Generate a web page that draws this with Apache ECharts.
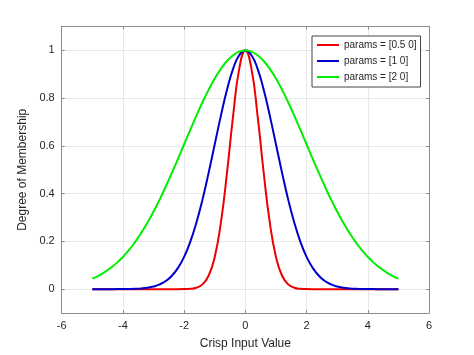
<!DOCTYPE html>
<html>
<head>
<meta charset="utf-8">
<script src="https://cdn.jsdelivr.net/npm/echarts@6/dist/echarts.min.js"></script>
<style>html,body{margin:0;padding:0;background:#fff}#c{width:474px;height:355px}</style>
</head>
<body>
<div id="c"></div>
<script>
const xValues = [-5,-4.8,-4.6,-4.4,-4.2,-4,-3.8,-3.6,-3.4,-3.2,-3,-2.8,-2.6,-2.4,-2.2,-2,-1.8,-1.6,-1.4,-1.2,-1,-0.8,-0.6,-0.4,-0.2,0,0.2,0.4,0.6,0.8,1,1.2,1.4,1.6,1.8,2,2.2,2.4,2.6,2.8,3,3.2,3.4,3.6,3.8,4,4.2,4.4,4.6,4.8,5];
const redValues = [0,0,0,0,0,0,0,0,0,0,0,0,0,0,0,0.0003,0.0015,0.006,0.0198,0.056,0.135,0.278,0.487,0.726,0.923,1,0.923,0.726,0.487,0.278,0.135,0.056,0.0198,0.006,0.0015,0.0003,0,0,0,0,0,0,0,0,0,0,0,0,0,0,0];
const blueValues = [0,0,0,0,0.0001,0.0003,0.0007,0.0015,0.0031,0.006,0.0111,0.0198,0.034,0.056,0.089,0.135,0.198,0.278,0.375,0.487,0.607,0.726,0.835,0.923,0.98,1,0.98,0.923,0.835,0.726,0.607,0.487,0.375,0.278,0.198,0.135,0.089,0.056,0.034,0.0198,0.0111,0.006,0.0031,0.0015,0.0007,0.0003,0.0001,0,0,0,0];
const greenValues = [0.044,0.056,0.071,0.089,0.110,0.135,0.164,0.198,0.236,0.278,0.325,0.375,0.430,0.487,0.546,0.607,0.667,0.726,0.783,0.835,0.8825,0.923,0.956,0.98,0.995,1,0.995,0.98,0.956,0.923,0.8825,0.835,0.783,0.726,0.667,0.607,0.546,0.487,0.430,0.375,0.325,0.278,0.236,0.198,0.164,0.135,0.110,0.089,0.071,0.056,0.044];
const seriesNames = ['params = [0.5 0]','params = [1 0]','params = [2 0]'];
const yTicks = [0,0.2,0.4,0.6,0.8,1];
const xLabel = 'Crisp Input Value';
const yLabel = 'Degree of Membership';

const pairs = ys => xValues.map((x,i)=>[x, ys[i]]);
const font = 'Liberation Sans, Helvetica, Arial, sans-serif';
const boxColor = '#8c8c8c';
const chart = echarts.init(document.getElementById('c'), null, {renderer:'canvas'});
const mk = (name, ys, color) => ({
  name, type:'line', data:pairs(ys), smooth:true, showSymbol:false, symbol:'none',
  lineStyle:{color, width:2}, itemStyle:{color}, animation:false, z:3
});
chart.setOption({
  animation:false,
  backgroundColor:'#fff',
  grid:{left:61.7, right:45, top:26.6, bottom:39.2, containLabel:false},
  legend:{
    orient:'vertical', left:312, top:36, icon:'rect', itemWidth:22, itemHeight:2,
    itemGap:4, padding:[3,4,4,5], borderColor:'#444', borderWidth:1, backgroundColor:'#fff',
    textStyle:{fontFamily:font, fontSize:10, color:'#262626', lineHeight:12, padding:[0,0,0,0]},
    data:seriesNames
  },
  xAxis:[{
    type:'value', min:-6, max:6, interval:2,
    name:xLabel, nameLocation:'middle', nameGap:25,
    nameTextStyle:{fontFamily:font, fontSize:12, color:'#262626'},
    axisLine:{show:true, onZero:false, lineStyle:{color:boxColor}},
    axisTick:{show:true, inside:true, length:3, lineStyle:{color:boxColor}},
    axisLabel:{fontFamily:font, fontSize:11, color:'#262626', margin:7},
    splitLine:{show:true, lineStyle:{color:'#e8e8e8'}}
  },{
    type:'value', min:-6, max:6, interval:2, position:'top',
    axisLine:{show:true, onZero:false, lineStyle:{color:boxColor}},
    axisTick:{show:true, inside:true, length:3, lineStyle:{color:boxColor}},
    axisLabel:{show:false}, splitLine:{show:false}
  }],
  yAxis:[{
    type:'value', min:-0.1, max:1.1,
    name:yLabel, nameLocation:'middle', nameGap:22,
    nameTextStyle:{fontFamily:font, fontSize:12, color:'#262626'},
    axisLine:{show:true, onZero:false, lineStyle:{color:boxColor}},
    axisTick:{show:true, inside:true, length:3, customValues:yTicks, lineStyle:{color:boxColor}},
    axisLabel:{fontFamily:font, fontSize:11, color:'#262626', margin:7, customValues:yTicks},
    splitLine:{show:true, lineStyle:{color:'#e8e8e8'}}
  },{
    type:'value', min:-0.1, max:1.1, position:'right',
    axisLine:{show:true, onZero:false, lineStyle:{color:boxColor}},
    axisTick:{show:true, inside:true, length:3, customValues:yTicks, lineStyle:{color:boxColor}},
    axisLabel:{show:false, customValues:yTicks}, splitLine:{show:false}
  }],
  series:[
    mk(seriesNames[0], redValues, '#ee0000'),
    mk(seriesNames[1], blueValues, '#0000cc'),
    mk(seriesNames[2], greenValues, '#00ee00')
  ]
});
</script>
</body>
</html>
